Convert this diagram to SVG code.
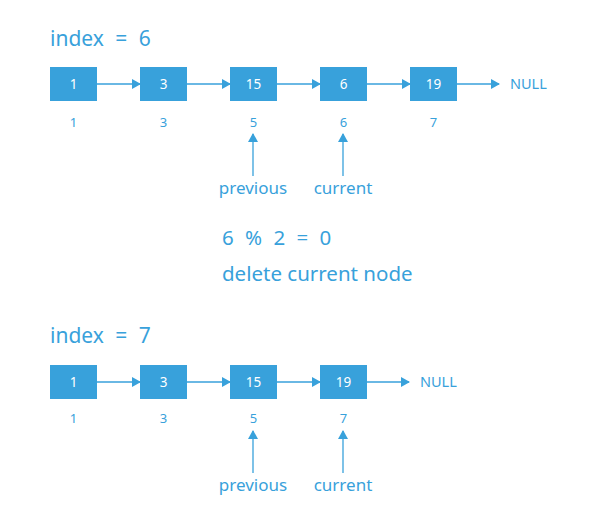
<svg xmlns="http://www.w3.org/2000/svg" width="595" height="520" viewBox="0 0 595 520">
<style>
.box{fill:#38a1db}
.bt{fill:#fff;font-family:"Noto Sans","Open Sans",sans-serif;font-size:13.5px;text-anchor:middle}
.lbl{fill:#38a1db;font-family:"Noto Sans","Open Sans",sans-serif}
.idx{font-size:13px;text-anchor:middle}
.ptr{font-size:17px;text-anchor:middle}
.big{font-size:21px;word-spacing:6px}
.mid{font-size:20.5px}
.ws{word-spacing:6px}
.null{font-size:14.5px}
.ln{stroke:#38a1db;stroke-width:1.3;fill:none;marker-end:url(#ah)}
</style>
<defs>
<marker id="ah" markerWidth="10" markerHeight="10" refX="8" refY="5" orient="auto" markerUnits="userSpaceOnUse">
<path d="M0,0 L9,5 L0,10 Z" fill="#38a1db"/>
</marker>
</defs>
<rect width="595" height="520" fill="#fff"/>
<text class="lbl big" x="50" y="46">index = 6</text>
<g id="connectors-top">
<line class="ln" x1="97" y1="84" x2="140" y2="84"/>
<line class="ln" x1="187" y1="84" x2="230" y2="84"/>
<line class="ln" x1="277" y1="84" x2="320" y2="84"/>
<line class="ln" x1="367" y1="84" x2="410" y2="84"/>
<line class="ln" x1="457" y1="84" x2="499" y2="84"/>
<line class="ln" x1="253" y1="176" x2="253" y2="134"/>
<line class="ln" x1="343" y1="176" x2="343" y2="134"/>
</g>
<g id="t1"><rect class="box" x="50" y="67" width="47" height="34"/><text class="bt" x="73.5" y="89">1</text><text class="lbl idx" x="73.5" y="127">1</text></g>
<g id="t3"><rect class="box" x="140" y="67" width="47" height="34"/><text class="bt" x="163.5" y="89">3</text><text class="lbl idx" x="163.5" y="127">3</text></g>
<g id="t15"><rect class="box" x="230" y="67" width="47" height="34"/><text class="bt" x="253.5" y="89">15</text><text class="lbl idx" x="253.5" y="127">5</text></g>
<g id="t6"><rect class="box" x="320" y="67" width="47" height="34"/><text class="bt" x="343.5" y="89">6</text><text class="lbl idx" x="343.5" y="127">6</text></g>
<g id="t19"><rect class="box" x="410" y="67" width="47" height="34"/><text class="bt" x="433.5" y="89">19</text><text class="lbl idx" x="433.5" y="127">7</text></g>
<g id="tnull"><text class="lbl null" x="510" y="89">NULL</text></g>
<g id="tprev"><text class="lbl ptr" x="253" y="194">previous</text></g>
<g id="tcur"><text class="lbl ptr" x="343" y="194">current</text></g>
<text class="lbl mid ws" x="222" y="245">6 % 2 = 0</text>
<text class="lbl mid" x="222" y="281">delete current node</text>
<text class="lbl big" x="50" y="343">index = 7</text>
<g id="connectors-bottom">
<line class="ln" x1="97" y1="382" x2="140" y2="382"/>
<line class="ln" x1="187" y1="382" x2="230" y2="382"/>
<line class="ln" x1="277" y1="382" x2="320" y2="382"/>
<line class="ln" x1="367" y1="382" x2="409" y2="382"/>
<line class="ln" x1="253" y1="473" x2="253" y2="431"/>
<line class="ln" x1="343" y1="473" x2="343" y2="431"/>
</g>
<g id="b1"><rect class="box" x="50" y="365" width="47" height="34"/><text class="bt" x="73.5" y="387">1</text><text class="lbl idx" x="73.5" y="423">1</text></g>
<g id="b3"><rect class="box" x="140" y="365" width="47" height="34"/><text class="bt" x="163.5" y="387">3</text><text class="lbl idx" x="163.5" y="423">3</text></g>
<g id="b15"><rect class="box" x="230" y="365" width="47" height="34"/><text class="bt" x="253.5" y="387">15</text><text class="lbl idx" x="253.5" y="423">5</text></g>
<g id="b19"><rect class="box" x="320" y="365" width="47" height="34"/><text class="bt" x="343.5" y="387">19</text><text class="lbl idx" x="343.5" y="423">7</text></g>
<g id="bnull"><text class="lbl null" x="420" y="387">NULL</text></g>
<g id="bprev"><text class="lbl ptr" x="253" y="491">previous</text></g>
<g id="bcur"><text class="lbl ptr" x="343" y="491">current</text></g>
</svg>
